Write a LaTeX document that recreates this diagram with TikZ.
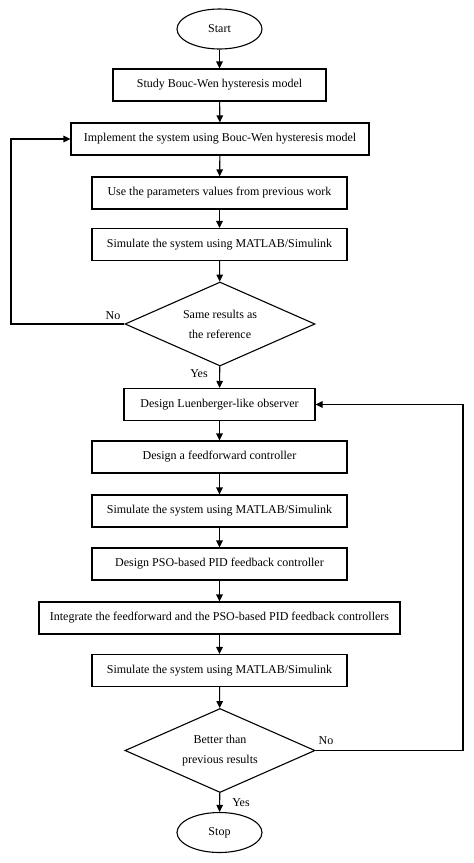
\documentclass[tikz,border=0pt]{standalone}
\usepackage{fontspec}
\setmainfont{Liberation Serif}
\usetikzlibrary{shapes.geometric,arrows.meta}
\begin{document}
\begin{tikzpicture}[x=1pt,y=-1pt,
  txt/.style={font=\fontsize{12}{20}\selectfont},
  box/.style={draw,line width=1.1pt,rectangle,minimum height=32pt,inner sep=0pt,txt},
  term/.style={draw,line width=1.1pt,ellipse,minimum width=85pt,minimum height=40pt,inner sep=0pt,txt},
  dec/.style={draw,line width=1.1pt,diamond,shape aspect=2.26,minimum width=190pt,minimum height=84pt,inner sep=0pt,align=center,txt},
  lab/.style={inner sep=0pt,txt},
  arr/.style={line width=1.1pt,-{Triangle[length=7pt,width=6.5pt]}}
]
\useasboundingbox (0,0) rectangle (474,863);
\node[term] (start) at (219.5,29) {Start};
\node[box,minimum width=213pt] (b1) at (219.5,85) {Study Bouc-Wen hysteresis model};
\node[box,minimum width=298pt] (b2) at (220,139) {Implement the system using Bouc-Wen hysteresis model};
\node[box,minimum width=255pt] (b3) at (219.5,193) {Use the parameters values from previous work};
\node[box,minimum width=255pt] (b4) at (219.5,244.5) {Simulate the system using MATLAB/Simulink};
\node[dec] (d1) at (220,324) {Same results as\\the reference};
\node[box,minimum width=191pt] (b5) at (219.5,404.5) {Design Luenberger-like observer};
\node[box,minimum width=255pt] (b6) at (219.5,457) {Design a feedforward controller};
\node[box,minimum width=255pt] (b7) at (219.5,511) {Simulate the system using MATLAB/Simulink};
\node[box,minimum width=255pt] (b8) at (219.5,564) {Design PSO-based PID feedback controller};
\node[box,minimum width=361pt] (b9) at (219.5,618) {Integrate the feedforward and the PSO-based PID feedback controllers};
\node[box,minimum width=255pt] (b10) at (219.5,670.5) {Simulate the system using MATLAB/Simulink};
\node[dec] (d2) at (220,750.5) {Better than\\previous results};
\node[term] (stop) at (219.5,832.5) {Stop};

\coordinate (c1) at (11,324);
\coordinate (c2) at (463,750.5);

\draw[arr] (start) -- (b1);
\draw[arr] (b1) -- (b2);
\draw[arr] (b2) -- (b3);
\draw[arr] (b3) -- (b4);
\draw[arr] (b4) -- (d1);
\draw[arr] (d1) -- (b5);
\draw[arr] (b5) -- (b6);
\draw[arr] (b6) -- (b7);
\draw[arr] (b7) -- (b8);
\draw[arr] (b8) -- (b9);
\draw[arr] (b9) -- (b10);
\draw[arr] (b10) -- (d2);
\draw[arr] (d2) -- (stop);
\draw[arr] (d1.west) -- (c1) |- (b2.west);
\draw[arr] (d2.east) -- (c2) |- (b5.east);

\node[lab] (no1) at (113,316) {No};
\node[lab] (yes1) at (199,374) {Yes};
\node[lab] (no2) at (326,741) {No};
\node[lab] (yes2) at (241,803) {Yes};
\end{tikzpicture}
\end{document}
